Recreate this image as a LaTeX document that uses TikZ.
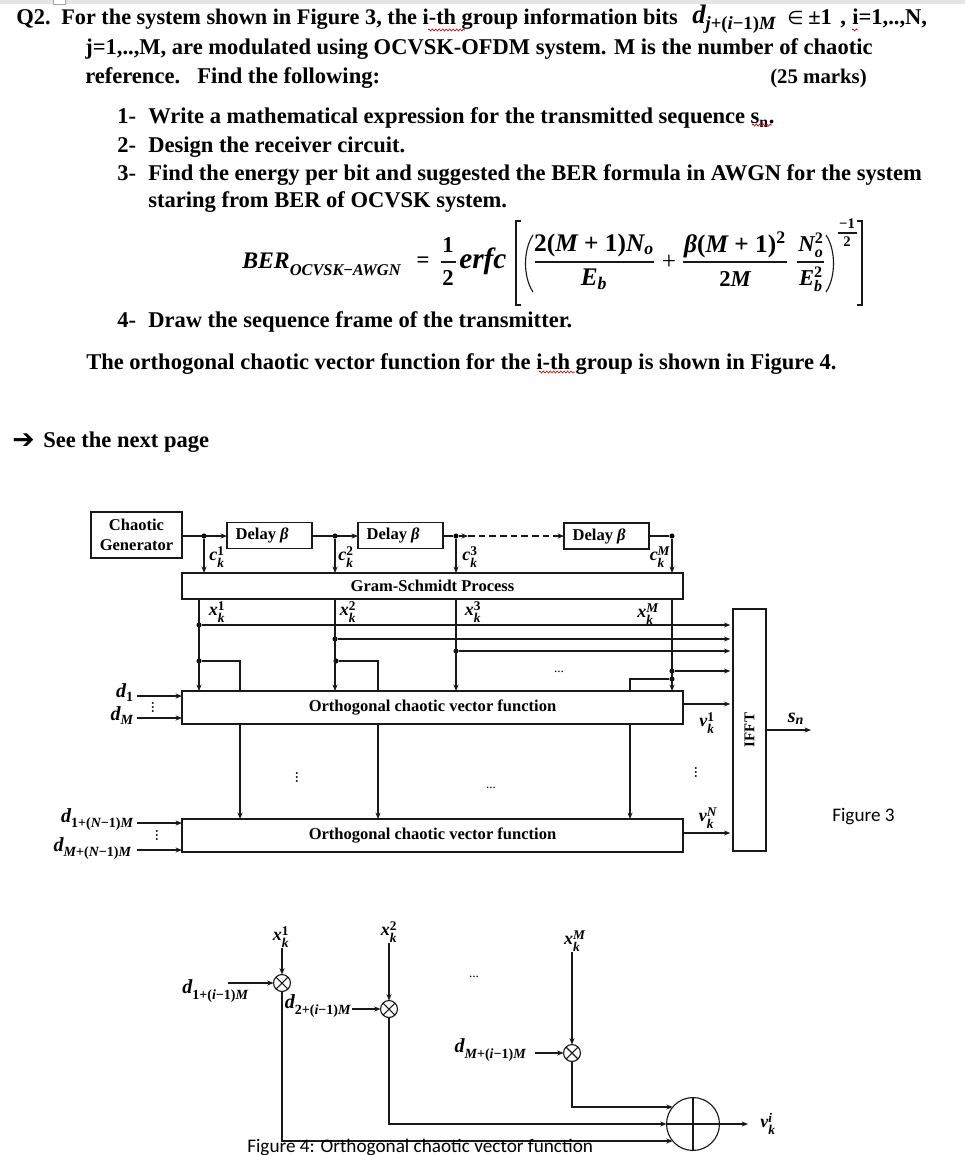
\documentclass[tikz,border=0pt]{standalone}
\usepackage{fontspec}
\setmainfont{Liberation Serif}
\newfontfamily\calfont{Carlito}
\newfontfamily\symfont{DejaVu Sans}
\usetikzlibrary{arrows.meta,decorations.pathmorphing,calc}
\newcommand\mi{\bfseries\itshape}
\newcommand\uu[1]{{\upshape #1}}
% general sized sub/superscript builders: base size, script size, base, sup, sub
\newcommand\vx[5]{$\mbox{\fontsize{#1}{#1}\selectfont\mi #3}^{\mbox{\fontsize{#2}{#2}\selectfont\mi #4}}_{\mbox{\fontsize{#2}{#2}\selectfont\mi #5}}$}
\newcommand\dx[4]{$\mbox{\fontsize{#1}{#1}\selectfont\mi #3}_{\mbox{\fontsize{#2}{#2}\selectfont\mi #4}}$}
\newcommand\vv[3]{\vx{13.5}{10}{#1}{#2}{#3}}
\newcommand\dd[2]{\dx{15}{10.5}{#1}{#2}}
\tikzset{
  ink/.style={draw=black!90,line width=0.85pt},
  arr/.style={ink,-{Stealth[length=4.8pt,width=3.8pt]}},
  wire/.style={ink},
  wh/.style 2 args={minimum width=#1*0.75pt,minimum height=#2*0.75pt},
  box/.style={ink,rectangle,inner sep=0pt,outer sep=0pt,align=center,font=\fontsize{12.4}{15}\selectfont\bfseries},
  jdot/.style={circle,fill=black,inner sep=0pt,minimum size=3.8pt,outer sep=0pt},
  para/.style={anchor=base west,inner sep=0pt,font=\fontsize{16.9}{18}\selectfont\bfseries},
  lab/.style={inner sep=0pt,outer sep=1pt},
  mult/.style={ink,circle,inner sep=0pt,outer sep=0pt,minimum size=12.7pt,path picture={\draw[line width=.8pt] (path picture bounding box.north west)--(path picture bounding box.south east) (path picture bounding box.north east)--(path picture bounding box.south west);}},
  adder/.style={ink,circle,inner sep=0pt,outer sep=0pt,minimum size=39.7pt,path picture={\draw[line width=.85pt] (path picture bounding box.north)--(path picture bounding box.south) (path picture bounding box.east)--(path picture bounding box.west);}},
  squig/.style={draw=red!80!black,line width=0.45pt,decorate,decoration={zigzag,segment length=2.6pt,amplitude=.8pt}},
  vdots/.style={inner sep=0pt,font=\fontsize{12}{12}\selectfont,rotate=90},
  hdots/.style={inner sep=0pt,font=\fontsize{10}{10}\selectfont},
  frac/.style={inner sep=0pt,font=\fontsize{19}{20}\selectfont\mi},
  upr/.style={inner sep=0pt,font=\fontsize{17}{18}\selectfont\bfseries},
}
\begin{document}
\begin{tikzpicture}[x=0.75pt,y=-0.75pt]
\useasboundingbox (0,0) rectangle (965,1155);
% window strip
\fill[black!10] (0,0) rectangle (965,4);
\filldraw[fill=white,draw=black!35,line width=.5pt] (53,-1) rectangle (65,4);
% question text
\node[para] (q) at (16,25) {Q2.};
\node[para,font=\fontsize{16.7}{18}\selectfont\bfseries] (l1) at (61,25) {For the system shown in Figure 3, the i-th group information bits};
\node[para] (l1d) at (692,24) {\dx{20}{14}{d}{j\uu{+(}i\uu{−1)}M}};
\node[para,font=\fontsize{14}{16}\selectfont\symfont] (l1e) at (787,25) {∈};
\node[para] (l1f) at (808,25) {±1};
\node[para] (l1g) at (840,25) {,};
\node[para] (l1i) at (852,25) {i=1,..,N,};
\node[para] (l2) at (85,55) {j=1,..,M, are modulated using OCVSK-OFDM system. M is the number of chaotic};
\node[para] (l3) at (85,84) {reference.};
\node[para] (l3b) at (197,84) {Find the following:};
\node[para,font=\fontsize{15.6}{18}\selectfont\bfseries] (l3c) at (770,84) {(25 marks)};
\node[para] (n1) at (117,124) {1-};
\node[para] (t1) at (148,124) {Write a mathematical expression for the transmitted sequence s\textsubscript{n}.};
\node[para] (n2) at (117,153) {2-};
\node[para] (t2) at (148,153) {Design the receiver circuit.};
\node[para] (n3) at (117,181) {3-};
\node[para] (t3) at (148,181) {Find the energy per bit and suggested the BER formula in AWGN for the system};
\node[para] (t3b) at (148,208) {staring from BER of OCVSK system.};
\node[para] (n4) at (117,327) {4-};
\node[para] (t4) at (148,327) {Draw the sequence frame of the transmitter.};
\node[para] (t5) at (86,369) {The orthogonal chaotic vector function for the i-th group is shown in Figure 4.};
\node[para,font=\fontsize{20}{20}\selectfont\symfont] (ar) at (12,448) {➔};
\node[para] (t6) at (43,447) {See the next page};
% spell-check marks
\coordinate (s1a) at (428,30); \coordinate (s1b) at (465,30);
\coordinate (s2a) at (852,30); \coordinate (s2b) at (858,30);
\coordinate (s3a) at (752,125); \coordinate (s3b) at (772,125);
\coordinate (s4a) at (539,372); \coordinate (s4b) at (575,372);
\draw[squig] (s1a)--(s1b); \draw[squig] (s2a)--(s2b); \draw[squig] (s3a)--(s3b); \draw[squig] (s4a)--(s4b);
% BER formula
\node[inner sep=0pt,anchor=base west] (ber) at (242,269) {\dx{17.8}{12.3}{BER}{OCVSK\uu{−}AWGN}};
\node[upr] (eq) at (423,262) {=};
\node[upr] (h1) at (448,245) {1};
\node[upr] (h2) at (448,278) {2};
\coordinate (hb1) at (441,262); \coordinate (hb2) at (456,262);
\draw[wire] (hb1)--(hb2);
\node[frac,anchor=base west,font=\fontsize{22}{22}\selectfont\mi] (erfc) at (459,269) {erfc};
\coordinate (bl1) at (516,221); \coordinate (bl2) at (516,305);
\draw[ink,line width=1pt] ($(bl1)+(5,0)$)--(bl1)--(bl2)--($(bl2)+(5,0)$);
\coordinate (pl1) at (533,235); \coordinate (pl2) at (533,292);
\draw[wire] (pl1) .. controls (523,250) and (523,277) .. (pl2);
\node[frac] (f1n) at (594,245) {\uu{2(}M \uu{+ 1)}N\textsubscript{o}};
\node[frac] (f1d) at (594,279) {E\textsubscript{b}};
\coordinate (f1a) at (535,262); \coordinate (f1b) at (654,262);
\draw[wire] (f1a)--(f1b);
\node[upr,font=\fontsize{19}{20}\selectfont] (pls) at (669,262) {+};
\node[frac] (f2n) at (735,245) {β\uu{(}M \uu{+ 1)\textsuperscript{2}}};
\node[frac,font=\fontsize{17}{18}\selectfont\mi] (f2d) at (735,279) {\uu{2}M};
\coordinate (f2a) at (683,262); \coordinate (f2b) at (787,262);
\draw[wire] (f2a)--(f2b);
\node[frac] (f3n) at (811,245) {\vx{17}{12}{N}{\uu{2}}{o}};
\node[frac] (f3d) at (811,279) {\vx{17}{12}{E}{\uu{2}}{b}};
\coordinate (f3a) at (797,262); \coordinate (f3b) at (824,262);
\coordinate (pr1) at (826,235); \coordinate (pr2) at (826,292);
\draw[wire] (f3a)--(f3b);
\draw[wire] (pr1) .. controls (836,250) and (836,277) .. (pr2);
\node[inner sep=0pt,font=\fontsize{11}{11}\selectfont\bfseries] (en) at (847,224) {−1};
\node[inner sep=0pt,font=\fontsize{11}{11}\selectfont\bfseries] (ed) at (847,242) {2};
\coordinate (eb1) at (838,233); \coordinate (eb2) at (857,233);
\draw[wire] (eb1)--(eb2);
\coordinate (br1) at (862,221); \coordinate (br2) at (862,305);
\draw[ink,line width=1pt] ($(br1)+(-5,0)$)--(br1)--(br2)--($(br2)+(-5,0)$);
% ---------- Figure 3 ----------
\node[box,wh={91}{46}] (gen) at (136.5,535) {Chaotic\\Generator};
\node[box,wh={85}{26}] (del1) at (269.5,535.5) {Delay \textit{β}\hspace{11pt}};
\node[box,wh={85}{26}] (del2) at (400.5,535.5) {Delay \textit{β}\hspace{11pt}};
\node[box,wh={85}{26}] (del3) at (606.5,536) {Delay \textit{β}\hspace{11pt}};
\node[box,wh={501}{26}] (gs) at (432.5,586) {Gram-Schmidt Process};
\node[box,wh={501}{33}] (of1) at (432.5,707.5) {Orthogonal chaotic vector function};
\node[box,wh={501}{33}] (of2) at (432.5,835.5) {Orthogonal chaotic vector function};
\node[box,wh={33}{242},font=\fontsize{11.2}{12}\selectfont\bfseries] (ifft) at (749.5,730) {\rotatebox{90}{IFFT}};
% junctions
\node[jdot] (j1) at (204,536) {};
\node[jdot] (j2) at (335,536) {};
\node[jdot] (j3) at (456,536) {};
\node[jdot] (j4) at (672,536) {};
\node[jdot] (p1a) at (199,625) {};
\node[jdot] (p1b) at (199,661) {};
\node[jdot] (p2a) at (335,639) {};
\node[jdot] (p2b) at (336,661) {};
\node[jdot] (p3a) at (456,651) {};
\node[jdot] (p4a) at (672,671) {};
\node[jdot] (p4b) at (672,679) {};
\coordinate (k1) at (240,724); \coordinate (k2) at (378,724); \coordinate (k3) at (630,724);
\coordinate (dm) at (468,536);
% top chain
\draw[arr] (gen.east |- j1) -- (del1.west |- j1);
\draw[arr] (del1.east |- j2) -- (del2.west |- j2);
\draw[wire] (del2.east |- j3) -- (j3);
\draw[arr] (j3) -- (dm);
\draw[arr,dashed,dash pattern=on 5pt off 3pt] (dm) -- (del3.west |- dm);
\draw[wire] (del3.east |- j4) -- (j4);
\foreach \j in {j1,j2,j3,j4}{\draw[arr] (\j) -- (gs.north -| \j);}
% GS outputs
\foreach \p in {p1a,p2a,p3a,p4a}{\draw[arr] (gs.south -| \p) -- (of1.north -| \p);}
\draw[arr,shorten >=2pt] (p1a) -- (ifft.west |- p1a);
\draw[arr,shorten >=2pt] (p2a) -- (ifft.west |- p2a);
\draw[arr,shorten >=2pt] (p3a) -- (ifft.west |- p3a);
\draw[arr,shorten >=2pt] (p4a) -- (ifft.west |- p4a);
\draw[wire] (p1b) -| (of1.north -| k1);
\draw[wire] (p2b) -| (of1.north -| k2);
\draw[wire] (p4b) -| (of1.north -| k3);
\draw[arr] (of1.south -| k1) -- (of2.north -| k1);
\draw[arr] (of1.south -| k2) -- (of2.north -| k2);
\draw[arr] (of1.south -| k3) -- (of2.north -| k3);
% data inputs
\coordinate (d1s) at (137,696); \coordinate (dms) at (137,718);
\coordinate (d3s) at (137,823); \coordinate (d4s) at (137,850);
\draw[arr] (d1s) -- (of1.west |- d1s);
\draw[arr] (dms) -- (of1.west |- dms);
\draw[arr] (d3s) -- (of2.west |- d3s);
\draw[arr] (d4s) -- (of2.west |- d4s);
% outputs
\coordinate (v1y) at (683,704); \coordinate (vny) at (683,833); \coordinate (sne) at (811,730);
\draw[arr,shorten >=2pt] (of1.east |- v1y) -- (ifft.west |- v1y);
\draw[arr,shorten >=2pt] (of2.east |- vny) -- (ifft.west |- vny);
\draw[arr] (ifft.east |- sne) -- (sne);
% labels
\node[lab] (lc1) at (217,557) {\vv{c}{\uu{1}}{k}};
\node[lab] (lc2) at (346,557) {\vv{c}{\uu{2}}{k}};
\node[lab] (lc3) at (470,557) {\vv{c}{\uu{3}}{k}};
\node[lab] (lcm) at (660,557) {\vv{c}{M}{k}};
\node[lab] (lx1) at (217,612) {\vv{x}{\uu{1}}{k}};
\node[lab] (lx2) at (348,612) {\vv{x}{\uu{2}}{k}};
\node[lab] (lx3) at (473,612) {\vv{x}{\uu{3}}{k}};
\node[lab] (lxm) at (648,614) {\vv{x}{M}{k}};
\node[lab,anchor=base east] (ld1) at (135,697) {\dd{d}{\uu{1}}};
\node[lab,anchor=base east] (ldm) at (135,720) {\dd{d}{M}};
\node[lab,anchor=base east] (ld3) at (135,822) {\dd{d}{\uu{1+(}N\uu{−1)}M}};
\node[lab,anchor=base east] (ld4) at (133,851) {\dd{d}{M\uu{+(}N\uu{−1)}M}};
\node[lab] (lv1) at (707,723) {\vv{v}{\uu{1}}{k}};
\node[lab] (lvn) at (708,818) {\vv{v}{N}{k}};
\node[lab] (lsn) at (796,719) {\dd{s}{n}};
\node[vdots] (vd1) at (153,707) {...};
\node[vdots] (vd2) at (157,835) {...};
\node[vdots] (vd3) at (297,777) {...};
\node[vdots] (vd4) at (696,772) {...};
\node[hdots] (hd1) at (559,672) {...};
\node[hdots] (hd2) at (491,788) {...};
\node[inner sep=0pt,anchor=west,font=\calfont\fontsize{14.4}{15}\selectfont] (fig3) at (832,817) {Figure 3};
% ---------- Figure 4 ----------
\node[mult] (m1) at (282,983) {};
\node[mult] (m2) at (389,1009) {};
\node[mult] (m3) at (572,1053) {};
\node[adder] (sum) at (693,1124) {};
\node[lab] (xa) at (281,937) {\vv{x}{\uu{1}}{k}};
\node[lab] (xb) at (389,932) {\vv{x}{\uu{2}}{k}};
\node[lab] (xc) at (575,941) {\vv{x}{M}{k}};
\node[lab] (da) at (215.5,991) {\dd{d}{\uu{1+(}i\uu{−1)}M}};
\node[lab] (db) at (318,1006) {\dd{d}{\uu{2+(}i\uu{−1)}M}};
\node[lab] (dc) at (490.5,1050) {\dd{d}{M\uu{+(}i\uu{−1)}M}};
\node[lab] (vo) at (768,1124) {\vv{v}{i}{k}};
\node[hdots] (hd3) at (474,977) {...};
\coordinate (das) at (228,983); \coordinate (dcs) at (535,1053); \coordinate (voe) at (748,1124);
\draw[arr] (m1 |- xa.south) -- (m1.north);
\draw[arr] (m2 |- xb.south) -- (m2.north);
\draw[arr] (m3 |- xc.south) -- (m3.north);
\draw[arr] (das) -- (m1.west);
\draw[arr] (db.east |- m2) -- (m2.west);
\draw[arr] (dcs) -- (m3.west);
\draw[arr] (m3.south) |- (sum.140);
\draw[arr] (m2.south) |- (sum.west);
\draw[arr] (m1.south) |- (sum.220);
\draw[arr] (sum.east) -- (voe);
\node[inner sep=0pt,anchor=base west,font=\calfont\fontsize{14.4}{15}\selectfont] (fig4) at (247,1152) {Figure 4:  Orthogonal chaotic vector function};
\end{tikzpicture}
\end{document}
